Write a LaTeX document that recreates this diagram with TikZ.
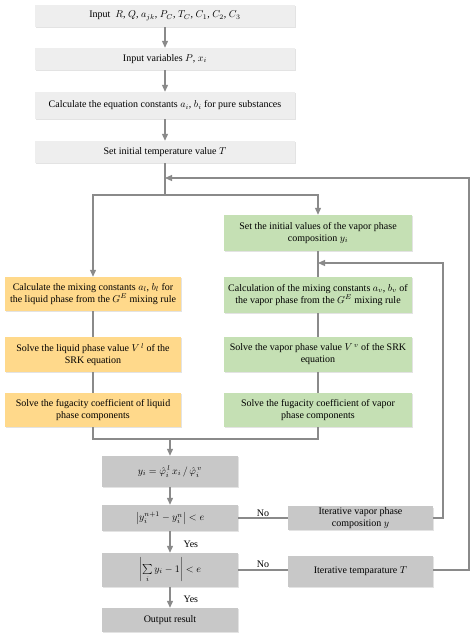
\documentclass[tikz,border=0pt]{standalone}
\usepackage{fontspec}
\setmainfont{Liberation Serif}
\usetikzlibrary{arrows.meta,shadows}
\definecolor{lgray}{HTML}{EEEEEE}
\definecolor{mgray}{HTML}{C8C8C8}
\definecolor{yel}{HTML}{FFD98B}
\definecolor{grn}{HTML}{C5E0B4}
\definecolor{linec}{HTML}{8A8A8A}
\tikzset{
  box/.style={draw=none, align=center, inner sep=1pt, font=\fontsize{10}{12}\selectfont,
    drop shadow={shadow xshift=0.8pt, shadow yshift=-1.2pt, fill=black!18, opacity=0.6}},
  topbox/.style={box, fill=lgray, minimum width=260pt},
  ybox/.style={box, fill=yel, minimum width=176pt},
  gbox/.style={box, fill=grn, minimum width=188pt},
  mbox/.style={box, fill=mgray, minimum width=136pt},
  ibox/.style={box, fill=mgray, minimum width=145pt},
  conn/.style={draw=linec, line width=1.1pt},
  arr/.style={conn, -{Triangle[length=7pt,width=6pt]}},
  lbl/.style={font=\fontsize{10}{12}\selectfont, inner sep=1pt},
}
\begin{document}
\begin{tikzpicture}[x=1pt,y=-1pt]
\useasboundingbox[fill=white] (0,0) rectangle (474,638);
% top column
\node[topbox, minimum height=22pt] (b1) at (165,16) {Input\enspace$R$, $Q$, $a_{jk}$, $P_C$, $T_C$, $C_1$, $C_2$, $C_3$};
\node[topbox, minimum height=22pt] (b2) at (165,59) {Input variables $P$, $x_i$};
\node[topbox, minimum height=27pt] (b3) at (165,105.5) {Calculate the equation constants $a_i$, $b_i$ for pure substances};
\node[topbox, minimum height=22pt] (b4) at (165,152) {Set initial temperature value $T$};
% green column
\node[gbox, minimum height=36pt] (g1) at (318,233) {Set the initial values of the vapor phase\\composition $y_i$};
\node[gbox, minimum height=36pt] (g2) at (318,295) {Calculation of the mixing constants $a_v$, $b_v$ of\\the vapor phase from the $G^E$ mixing rule};
\node[gbox, minimum height=35pt] (g3) at (318,354.5) {Solve the vapor phase value $V^{\,v}$ of the SRK\\equation};
\node[gbox, minimum height=34pt] (g4) at (318,410) {Solve the fugacity coefficient of vapor\\phase components};
% yellow column
\node[ybox, minimum height=34pt] (y1) at (93,294) {Calculate the mixing constants $a_l$, $b_l$ for\\the liquid phase from the $G^E$ mixing rule};
\node[ybox, minimum height=35pt] (y2) at (93,354.5) {Solve the liquid phase value $V^{\,l}$ of the\\SRK equation};
\node[ybox, minimum height=34pt] (y3) at (93,410) {Solve the fugacity coefficient of liquid\\phase components};
% lower column
\node[mbox, minimum height=31pt] (m1) at (170,471.5) {$y_i=\hat{\varphi}_i^{\,l}\,x_i\,/\,\hat{\varphi}_i^{\,v}$};
\node[mbox, minimum height=26pt] (m2) at (170,518) {$\left|y_i^{n+1}-y_i^{n}\right|<e$};
\node[mbox, minimum height=34pt] (m3) at (170,570) {$\left|\sum\limits_i y_i-1\right|<e$};
\node[mbox, minimum height=24pt] (m4) at (170,620) {Output result};
\node[ibox, minimum height=23pt] (iv) at (360.5,518) {Iterative vapor phase\\composition $y$};
\node[ibox, minimum height=31pt] (it) at (360.5,571.5) {Iterative temparature $T$};
% coordinates
\coordinate (j1) at (165,178);
\coordinate (j2) at (165,195);
\coordinate (j3) at (318,263);
\coordinate (j4) at (170,439);
% connectors
\draw[arr] (b1) -- (b2);
\draw[arr] (b2) -- (b3);
\draw[arr] (b3) -- (b4);
\draw[conn] (b4.south) -- (j2);
\draw[arr] (j2) -| (y1.north);
\draw[arr] (j2) -| (g1.north);
\draw[conn] (g1) -- (g2);
\draw[conn] (g2) -- (g3);
\draw[conn] (g3) -- (g4);
\draw[conn] (y1) -- (y2);
\draw[conn] (y2) -- (y3);
\draw[conn] (y3.south) |- (j4);
\draw[conn] (g4.south) |- (j4);
\draw[arr] (j4) -- (m1.north);
\draw[arr] (m1) -- (m2);
\draw[arr] (m2) -- node[lbl, right=12pt, pos=0.6] {Yes} (m3);
\draw[arr] (m3.south) -- node[lbl, right=12pt, pos=0.6] {Yes} (m4.north);
\draw[conn] (m2.east) -- node[lbl, above=0pt] {No} (m2.east -| iv.west);
\draw[conn] (m3.east) -- node[lbl, above=1pt] {No} (m3.east -| it.west);
\draw[arr] (iv.east |- m2.east) -- (443,518) -- (443,263) -- (j3);
\draw[arr] (it.east |- m3.east) -- (469,570) -- (469,178) -- (j1);
\end{tikzpicture}
\end{document}
